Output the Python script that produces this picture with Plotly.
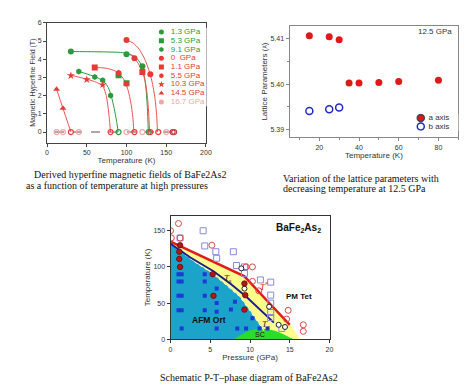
import plotly.graph_objects as go

W, H = 474, 387
def dx(a, b): return [a / W, b / W]
def dy(a, b): return [1 - b / H, 1 - a / H]

# ---------------- Panel 1: hyperfine field data ----------------
legend1_labels = ["1.3 GPa", "5.3 GPa", "9.1 GPa", "0  GPa", "1.1 GPa", "5.5 GPa",
                  "10.3 GPa", "14.5 GPa", "16.7 GPa"]
GREEN, RED, PINK = "#2a9a3a", "#e83a34", "#f3a6a6"
legend1_colors = [GREEN, GREEN, GREEN, RED, RED, RED, RED, RED, PINK]
legend1_symbols = ["circle", "square", "hexagon", "circle", "square", "hexagon",
                   "star", "triangle-up", "circle"]

p13_T = [30, 100, 120];        p13_H = [4.42, 4.27, 3.62]
p53_T = [90, 100];             p53_H = [3.12, 2.68]
p91_T = [40, 60, 70, 80];      p91_H = [3.33, 3.02, 2.85, 2.0]
p0_T = [100, 110, 130];        p0_H = [5.05, 4.05, 3.18]
p11_T = [60, 120];             p11_H = [3.55, 3.30]
p55_T = [90, 100];             p55_H = [3.25, 2.65]
p103_T = [30, 50, 70];         p103_H = [3.10, 2.88, 2.60]
p145_T = [12, 20];             p145_H = [2.35, 1.30]
zero_T = [12, 20, 30, 40, 80, 90, 100, 110, 120, 128, 130, 140, 150, 158, 160]
zero_H = [0] * len(zero_T)
zero_colors = [PINK, PINK, RED, PINK, RED, GREEN, PINK, RED, PINK, GREEN, RED, RED, PINK, "#c04040", "#c04040"]

# fitted curves
fitA_T = [30, 60, 90, 100, 108, 114, 119, 122, 124.5, 126.3, 127.5]
fitA_H = [4.42, 4.41, 4.38, 4.33, 4.2, 4.0, 3.65, 3.2, 2.4, 1.3, 0]
fitB_T = [100, 108, 116, 123, 129, 133, 136, 138, 139]
fitB_H = [5.05, 4.9, 4.55, 4.0, 3.3, 2.6, 1.8, 0.9, 0]
fitC_T = [100, 108, 115, 120, 123.5, 126.2, 128, 129]
fitC_H = [4.35, 4.15, 3.75, 3.3, 2.8, 2.0, 1.0, 0]
fitD_T = [60, 75, 86, 93, 98, 102, 105.5, 108, 109.3]
fitD_H = [3.55, 3.5, 3.35, 3.1, 2.8, 2.3, 1.6, 0.8, 0]
fitE_T = [40, 55, 65, 72, 77, 81, 84.5, 87.5, 89.5]
fitE_H = [3.33, 3.12, 2.95, 2.75, 2.45, 1.95, 1.3, 0.6, 0]
fitF_T = [30, 45, 58, 66, 71, 74.5, 77, 78.7, 79.8]
fitF_H = [3.12, 2.96, 2.8, 2.65, 2.45, 2.0, 1.3, 0.6, 0]
fitG_T = [12, 20, 30]
fitG_H = [2.35, 1.3, 0]
base_T = [10, 160]; base_H = [0, 0]

# ---------------- Panel 2: lattice parameters ----------------
a_T = [15, 25, 30, 35, 40, 50, 60, 80]
a_val = [5.4107, 5.4105, 5.4098, 5.4003, 5.4003, 5.4004, 5.4006, 5.4009]
b_T = [15, 25, 30]
b_val = [5.3941, 5.3945, 5.3949]
legend2_labels = ["a axis", "b axis"]

# ---------------- Panel 3: phase diagram ----------------
yellow_P = [0, 3, 6, 9.3, 12, 15, 16.3, 0]
yellow_T = [135, 120, 104, 88, 55, 21, 0, 0]
cyan_P = [0, 2.9, 5.4, 7.4, 8.7, 9.9, 10.9, 11.8, 12.3, 0]
cyan_T = [132, 108, 90, 72, 59, 41, 25, 11, 0, 0]
green_P = [8.0, 9.0, 10.0, 11.0, 12.0, 13.0, 14.0, 15.0, 15.5]
green_T = [0, 7, 12, 14.2, 14, 12, 8, 2.5, 0]
red_P = [0, 3, 6, 9.3, 12, 15]
red_T = [135, 119.5, 104, 87, 55, 20]
blue_P = [0, 2.5, 5.4, 7.5, 9.5, 11.3, 13]
blue_T = [132, 113, 94, 77, 59, 40, 23]

afm_P = [1.0, 1.4, 1.0, 1.4, 1.0, 1.4, 1.0, 1.4, 1.4, 4.3, 4.3, 4.3, 4.3, 5.8, 5.8, 5.8, 5.8,
         7.6, 8.1, 8.4, 9.5, 10.3, 11.2, 12.2]
afm_T = [90, 90, 80, 80, 60, 60, 40, 40, 15, 90, 80, 60, 40, 70, 50, 38, 15,
         41, 52, 15, 15, 29, 15, 15]
dred_P = [1.1, 1.1, 1.2, 1.2, 5.3, 5.4, 9.3, 9.4, 9.3]
dred_T = [121, 111, 100, 130, 90, 60, 77, 61, 41]
osq_P = [4.1, 1.2, 4.3, 5.7, 5.8, 7.9, 8.3, 9.3, 12.6, 12.6, 12.6, 12.6, 12.6, 14.0, 9.3, 11.3]
osq_T = [150, 140, 129, 121, 112, 121, 102, 100, 79, 61, 50, 37, 30, 15, 91, 82]
ocirc_P = [0, 1.0, 1.2, 5.2, 9.5, 10.3, 10.3, 11.1, 14.8, 14.6, 16.7, 16.7, 0.1]
ocirc_T = [150, 160, 140, 130, 100, 100, 80, 67, 40, 28, 20, 11, 140]
wcirc_P = [8.9, 9.3, 12.4, 13.6, 14.4]
wcirc_T = [98, 70, 45, 20, 17]

fig = go.Figure()
XA = dict(xaxis="x", yaxis="y")

# panel 1
fig.add_trace(go.Scatter(x=base_T, y=base_H, mode="lines", line=dict(color="#555", width=1, dash="dash"),
                         showlegend=False, **XA))
for tx, hy, col in [(fitA_T, fitA_H, GREEN), (fitB_T, fitB_H, "#f05050"), (fitC_T, fitC_H, "#f05050"),
                    (fitD_T, fitD_H, "#f05050"), (fitE_T, fitE_H, GREEN), (fitF_T, fitF_H, "#f05050"),
                    (fitG_T, fitG_H, "#f05050")]:
    fig.add_trace(go.Scatter(x=tx, y=hy, mode="lines", line=dict(color=col, width=1, shape="spline", smoothing=0.6),
                             showlegend=False, **XA))
fig.add_trace(go.Scatter(x=zero_T, y=zero_H, mode="markers",
                         marker=dict(symbol="circle-open", size=5, color=zero_colors, line=dict(width=1.2)),
                         showlegend=False, **XA))
pts1 = [(p13_T, p13_H, 0), (p53_T, p53_H, 1), (p91_T, p91_H, 2), (p0_T, p0_H, 3), (p11_T, p11_H, 4),
        (p55_T, p55_H, 5), (p103_T, p103_H, 6), (p145_T, p145_H, 7)]
for tx, hy, i in pts1:
    fig.add_trace(go.Scatter(x=tx, y=hy, mode="markers",
                             marker=dict(symbol=legend1_symbols[i], size=6, color=legend1_colors[i]),
                             showlegend=False, **XA))
# panel 1 legend keys (helper axis)
rows1 = list(range(len(legend1_labels)))
fig.add_trace(go.Scatter(x=[0.08] * len(rows1), y=rows1, mode="markers",
                         marker=dict(symbol=legend1_symbols, size=5, color=legend1_colors),
                         showlegend=False, xaxis="x4", yaxis="y4"))
fig.add_trace(go.Scatter(x=[0.27] * len(rows1), y=rows1, mode="text", text=legend1_labels,
                         textposition="middle right",
                         textfont=dict(color=legend1_colors, size=8, family="Liberation Sans"),
                         showlegend=False, xaxis="x4", yaxis="y4"))

# panel 2
fig.add_trace(go.Scatter(x=a_T, y=a_val, mode="markers", marker=dict(symbol="circle", size=7, color="#e01818"),
                         showlegend=False, xaxis="x2", yaxis="y2"))
fig.add_trace(go.Scatter(x=b_T, y=b_val, mode="markers",
                         marker=dict(symbol="circle-open", size=7, color="#2228c8", line=dict(width=1.5)),
                         showlegend=False, xaxis="x2", yaxis="y2"))
fig.add_trace(go.Scatter(x=[0.17, 0.17], y=[0, 1], mode="markers",
                         marker=dict(symbol=["circle", "circle-open"], size=7, color=["#e01818", "#2228c8"],
                                     line=dict(width=1.5)),
                         showlegend=False, xaxis="x5", yaxis="y5"))
fig.add_trace(go.Scatter(x=[0.34, 0.34], y=[0, 1], mode="text", text=legend2_labels, textposition="middle right",
                         textfont=dict(color="#333", size=8, family="Liberation Sans"),
                         showlegend=False, xaxis="x5", yaxis="y5"))

# panel 3
X3 = dict(xaxis="x3", yaxis="y3")
fig.add_trace(go.Scatter(x=yellow_P, y=yellow_T, fill="toself", fillcolor="#fdfd8c", mode="lines",
                         line=dict(width=0), showlegend=False, **X3))
fig.add_trace(go.Scatter(x=cyan_P, y=cyan_T, fill="toself", fillcolor="#1ba3c9", mode="lines",
                         line=dict(width=0), showlegend=False, **X3))
fig.add_trace(go.Scatter(x=green_P, y=green_T, fill="toself", fillcolor="#2add2a", mode="lines",
                         line=dict(width=0, shape="spline"), showlegend=False, **X3))
fig.add_trace(go.Scatter(x=cyan_P[:-2], y=cyan_T[:-2], mode="lines", line=dict(color="white", width=1, dash="dot"),
                         showlegend=False, **X3))
fig.add_trace(go.Scatter(x=red_P, y=red_T, mode="lines", line=dict(color="#e01a1a", width=2.5),
                         showlegend=False, **X3))
fig.add_trace(go.Scatter(x=blue_P, y=blue_T, mode="lines", line=dict(color="#1c1c96", width=2),
                         showlegend=False, **X3))
fig.add_trace(go.Scatter(x=afm_P, y=afm_T, mode="markers", marker=dict(symbol="square", size=4, color="#1d3ad6"),
                         showlegend=False, **X3))
fig.add_trace(go.Scatter(x=osq_P, y=osq_T, mode="markers",
                         marker=dict(symbol="square-open", size=6, color="#8a88e0", line=dict(width=1)),
                         showlegend=False, **X3))
fig.add_trace(go.Scatter(x=ocirc_P, y=ocirc_T, mode="markers",
                         marker=dict(symbol="circle-open", size=6, color="#d84848", line=dict(width=1)),
                         showlegend=False, **X3))
fig.add_trace(go.Scatter(x=wcirc_P, y=wcirc_T, mode="markers",
                         marker=dict(symbol="circle", size=5, color="white", line=dict(width=1, color="#222")),
                         showlegend=False, **X3))
fig.add_trace(go.Scatter(x=dred_P, y=dred_T, mode="markers",
                         marker=dict(symbol="circle", size=5.5, color="#b01818", line=dict(width=0.8, color="#6a0a0a")),
                         showlegend=False, **X3))

tickf = dict(family="Liberation Sans", size=7, color="#333")
titf = dict(family="Liberation Sans", size=8, color="#333")
def ax(domain, rng, dtick, anchor, title, lc="#555", **kw):
    d = dict(domain=domain, range=rng, dtick=dtick, anchor=anchor, showgrid=False, zeroline=False,
             showline=True, linecolor=lc, linewidth=1, mirror=True, ticks="outside", ticklen=3,
             tickcolor=lc, tickfont=tickf, title=dict(text=title, font=titf, standoff=1))
    d.update(kw)
    return d

fig.update_layout(
    width=W, height=H, margin=dict(l=0, r=0, t=0, b=0),
    paper_bgcolor="white", plot_bgcolor="white", showlegend=False,
    xaxis=ax(dx(37.7, 199.3), [0, 200], 50, "y", "Temperature (K)", "#444"),
    yaxis=ax(dy(11, 133), [-0.58, 6], 1, "x", "Magnetic Hyperfine Field (T)", "#444",
             title_font=dict(family="Liberation Sans", size=7, color="#333")),
    xaxis2=ax(dx(284.3, 456), [5, 90], 20, "y2", "Temperature (K)", "#888",
              tick0=0, minor=dict(dtick=10, ticks="outside", ticklen=2, tickcolor="#888")),
    yaxis2=ax(dy(14, 127.7), [5.3883, 5.4129], 0.01, "x2", "Lattice Parameters (<span style='font-size:5px'>Å</span>)",
              "#888", tickformat=".2f", minor=dict(dtick=0.005, ticks="outside", ticklen=2, tickcolor="#888")),
    xaxis3=ax(dx(163.3, 325), [0, 20], 5, "y3", "Pressure (GPa)", "#333"),
    yaxis3=ax(dy(207.3, 333.3), [0, 171], 50, "x3", "Temperature (K)", "#333"),
    xaxis4=dict(domain=dx(150, 200), range=[0, 1], visible=False, anchor="y4", fixedrange=True),
    yaxis4=dict(domain=dy(16, 96), range=[8.5, -0.5], visible=False, anchor="x4", fixedrange=True),
    xaxis5=dict(domain=dx(410, 456), range=[0, 1], visible=False, anchor="y5", fixedrange=True),
    yaxis5=dict(domain=dy(103.5, 121), range=[1.5, -0.5], visible=False, anchor="x5", fixedrange=True),
)

serif = dict(family="Liberation Serif", size=10, color="#111")
annots = [
    dict(text="Derived hyperfine magnetic fields of BaFe2As2", x=22 / W, y=1 - 166 / H, xanchor="left"),
    dict(text="as a function of temperature at high pressures", x=14 / W, y=1 - 176.5 / H, xanchor="left"),
    dict(text="Variation of the lattice parameters with", x=276 / W, y=1 - 169.5 / H, xanchor="left"),
    dict(text="decreasing temperature at 12.5 GPa", x=276 / W, y=1 - 179.5 / H, xanchor="left"),
    dict(text="Schematic P-T\u2013phase diagram of BaFe2As2", x=243 / W, y=1 - 372.5 / H, xanchor="center"),
]
for a in annots:
    fig.add_annotation(xref="paper", yref="paper", showarrow=False, yanchor="middle", font=serif, **a)

fig.add_annotation(xref="paper", yref="paper", x=452 / W, y=1 - 20 / H, xanchor="right", yanchor="middle",
                   text="12.5 GPa", showarrow=False, font=dict(family="Liberation Sans", size=8, color="#333"))

lab = dict(xref="x3", yref="y3", showarrow=False)
fig.add_annotation(x=16.1, y=154, text="<b>BaFe<sub>2</sub>As<sub>2</sub></b>",
                   font=dict(family="Liberation Sans", size=10, color="#111"), **lab)
fig.add_annotation(x=16.2, y=59, text="<b>PM Tet</b>", font=dict(family="Liberation Sans", size=8, color="#111"), **lab)
fig.add_annotation(x=4.8, y=27, text="<b>AFM Ort</b>", font=dict(family="Liberation Sans", size=8.5, color="#111"), **lab)
fig.add_annotation(x=11.3, y=7, text="SC", font=dict(family="Liberation Sans", size=7, color="#111"), **lab)
fig.add_annotation(x=7.2, y=84, text="<i>T</i><sub>s</sub>", font=dict(family="Liberation Serif", size=9, color="#222"), **lab)
fig.add_annotation(x=11.7, y=73, text="<i>T</i><sup>*</sup>", font=dict(family="Liberation Serif", size=9, color="#d01010"), **lab)
fig.add_annotation(x=12.0, y=20, text="<i>T</i><sub>c</sub>", font=dict(family="Liberation Serif", size=9, color="#222"), **lab)

fig.write_html("out.html")
